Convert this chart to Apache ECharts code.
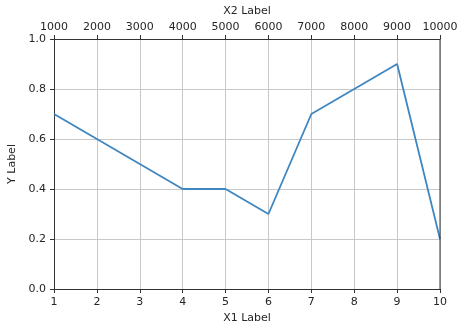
<!DOCTYPE html>
<html>
<head>
<meta charset="utf-8">
<script src="https://cdn.jsdelivr.net/npm/echarts@6/dist/echarts.min.js"></script>
<style>
  html, body { margin: 0; padding: 0; background: #fff; }
  #main { width: 474px; height: 327px; }
</style>
</head>
<body>
<div id="main"></div>
<script>
// data
const xValues = [1, 2, 3, 4, 5, 6, 7, 8, 9, 10];
const yValues = [0.7, 0.6, 0.5, 0.4, 0.4, 0.3, 0.7, 0.8, 0.9, 0.2];
const x1Name = 'X1 Label';
const x2Name = 'X2 Label';
const yName = 'Y Label';

const font = 'DejaVu Sans';
const textColor = '#262626';
const axisLineStyle = { color: '#333', width: 1 };
const gridLine = { show: true, lineStyle: { color: '#c8c8c8', width: 1 } };

const option = {
  animation: false,
  grid: { left: 54, right: 34, top: 39, bottom: 38, outerBoundsMode: 'none', containLabel: false },
  xAxis: [
    {
      type: 'value',
      position: 'bottom',
      min: 1, max: 10, interval: 1,
      name: x1Name,
      nameLocation: 'center',
      nameGap: 22,
      nameTextStyle: { fontFamily: font, fontSize: 11, color: textColor, lineHeight: 6 },
      axisLine: { onZero: false, lineStyle: axisLineStyle },
      axisTick: { show: true, inside: false, length: 4, lineStyle: axisLineStyle },
      axisLabel: { fontFamily: font, fontSize: 11, color: textColor, margin: 8 },
      splitLine: gridLine,
    },
    {
      type: 'value',
      position: 'top',
      min: 1000, max: 10000, interval: 1000,
      name: x2Name,
      nameLocation: 'center',
      nameGap: 18,
      nameTextStyle: { fontFamily: font, fontSize: 11, color: textColor },
      axisLine: { onZero: false, lineStyle: axisLineStyle },
      axisTick: { show: true, inside: false, length: 4, lineStyle: axisLineStyle },
      axisLabel: { fontFamily: font, fontSize: 11, color: textColor, margin: 6, formatter: v => String(v) },
      splitLine: { show: false },
    },
  ],
  yAxis: {
    type: 'value',
    min: 0, max: 1, interval: 0.2,
    name: yName,
    nameLocation: 'center',
    nameGap: 30,
    nameTextStyle: { fontFamily: font, fontSize: 11, color: textColor },
    axisLine: { show: true, lineStyle: axisLineStyle },
    axisTick: { show: true, inside: false, length: 4, lineStyle: axisLineStyle },
    axisLabel: { fontFamily: font, fontSize: 11, color: textColor, margin: 8, formatter: v => v.toFixed(1) },
    splitLine: gridLine,
  },
  series: [
    {
      type: 'line',
      xAxisIndex: 0,
      data: xValues.map((x, i) => [x, yValues[i]]),
      showSymbol: false,
      lineStyle: { color: '#3f86c0', width: 1.8 },
      itemStyle: { color: '#3f86c0' },
    },
  ],
};

const myChart = echarts.init(document.getElementById('main'), null, { renderer: 'canvas' });
myChart.setOption(option);
// right border of the frame
const p0 = myChart.convertToPixel({ xAxisIndex: 0 }, 10);
myChart.setOption({
  graphic: [{
    type: 'line',
    shape: { x1: p0, y1: 39, x2: p0, y2: 327 - 38 },
    style: { stroke: '#333', lineWidth: 1 },
    z: 10,
  }],
});
</script>
</body>
</html>
